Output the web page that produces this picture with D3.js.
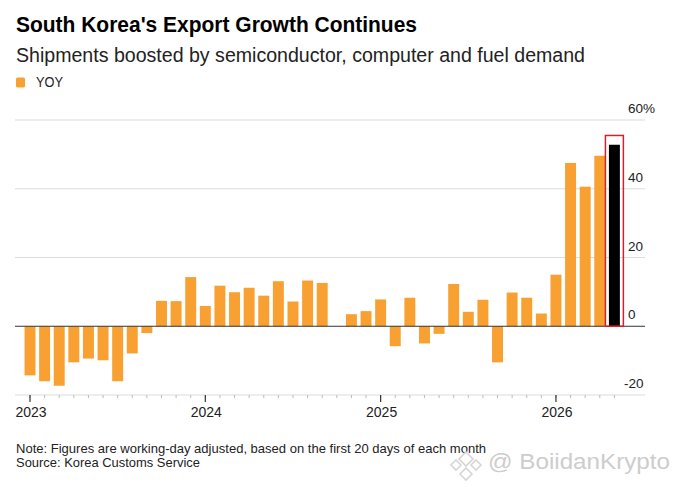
<!DOCTYPE html>
<html lang="en">
<head>
    <meta charset="UTF-8">
    <title>South Korea's Export Growth Continues</title>
    <script src="https://d3js.org/d3.v7.min.js"></script>
</head>
<style>
    html,body{
        padding:0px;
        margin:0px;
        background:#fff;
    }
    svg text{
        font-family:"Liberation Sans", Arial, sans-serif;
    }
</style>
<body>
<div id="chart"></div>
<script>
    // months Jan 2023 - May 2026 (first 20 days, YoY %)
    const months = [
        "2023-01","2023-02","2023-03","2023-04","2023-05","2023-06","2023-07","2023-08","2023-09","2023-10","2023-11","2023-12",
        "2024-01","2024-02","2024-03","2024-04","2024-05","2024-06","2024-07","2024-08","2024-09","2024-10","2024-11","2024-12",
        "2025-01","2025-02","2025-03","2025-04","2025-05","2025-06","2025-07","2025-08","2025-09","2025-10","2025-11","2025-12",
        "2026-01","2026-02","2026-03","2026-04","2026-05"
    ];
    const yoy = [
        -14.3,-16.0,-17.3,-10.5,-9.4,-9.9,-16.0,-7.9,-2.0,7.4,7.3,14.3,
        5.9,11.8,9.9,11.2,8.9,13.1,7.2,13.3,12.6,0,3.5,4.4,
        7.8,-5.8,8.3,-5.0,-2.2,12.3,4.2,7.7,-10.5,9.8,8.3,3.7,
        15.0,47.5,40.6,49.6,52.8
    ];
    const highlight = "2026-05";
    const yearTicks = ["2023-01","2024-01","2025-01","2026-01"];
    const yearLabels = ["2023","2024","2025","2026"];
    const yTicks = [-20,0,20,40,60];

    const W = 680, H = 487;
    const orange = "#f8a032";

    const svg = d3.select("#chart").append("svg")
        .attr("width", W).attr("height", H);
    svg.append("rect").attr("width", W).attr("height", H).attr("fill", "#fff");

    const x = d3.scaleBand()
        .domain(months)
        .range([22.7, 621.7])
        .paddingInner(0.25)
        .paddingOuter(0.125);
    const y = d3.scaleLinear().domain([-20, 60]).range([395, 120]);

    // gridlines
    svg.append("g").selectAll("line")
        .data(yTicks.filter(d => d !== 0))
        .join("line")
        .attr("x1", 15).attr("x2", 645)
        .attr("y1", d => y(d)).attr("y2", d => y(d))
        .attr("stroke", "#dcdcdc").attr("stroke-width", 1.2);

    // right axis labels
    svg.append("g").selectAll("text")
        .data(yTicks)
        .join("text")
        .attr("x", d => d < 0 ? 624 : 628)
        .attr("y", d => y(d) - 7)
        .attr("font-size", 13.5)
        .attr("fill", "#222")
        .text(d => d === 60 ? d + "%" : d);

    // bottom month ticks
    const xAxis = svg.append("g");
    xAxis.selectAll("line.minor")
        .data(months)
        .join("line")
        .attr("class", "minor")
        .attr("x1", d => x(d) + x.bandwidth() / 2).attr("x2", d => x(d) + x.bandwidth() / 2)
        .attr("y1", y(-20)).attr("y2", y(-20) + 3)
        .attr("stroke", "#bbb").attr("stroke-width", 1);
    xAxis.selectAll("line.major")
        .data(yearTicks)
        .join("line")
        .attr("class", "major")
        .attr("x1", d => x(d) + x.bandwidth() / 2).attr("x2", d => x(d) + x.bandwidth() / 2)
        .attr("y1", y(-20)).attr("y2", y(-20) + 7)
        .attr("stroke", "#333").attr("stroke-width", 1.2);
    xAxis.selectAll("text")
        .data(yearTicks)
        .join("text")
        .attr("x", (d, i) => x(d) + x.bandwidth() / 2 + 1)
        .attr("y", 416.5)
        .attr("text-anchor", "middle")
        .attr("font-size", 14)
        .attr("fill", "#222")
        .text((d, i) => yearLabels[i]);

    // bars
    svg.append("g").selectAll("rect")
        .data(months)
        .join("rect")
        .attr("x", d => x(d))
        .attr("width", x.bandwidth())
        .attr("y", (d, i) => y(Math.max(0, yoy[i])))
        .attr("height", (d, i) => Math.abs(y(yoy[i]) - y(0)))
        .attr("fill", d => d === highlight ? "#000" : orange);

    // zero line
    svg.append("line")
        .attr("x1", 15).attr("x2", 645)
        .attr("y1", y(0)).attr("y2", y(0))
        .attr("stroke", "#333").attr("stroke-width", 1);

    // red box round latest bar
    const hv = yoy[months.indexOf(highlight)];
    svg.append("rect")
        .attr("x", x(highlight) - 3.5)
        .attr("width", x.bandwidth() + 7)
        .attr("y", y(hv + 2.7))
        .attr("height", y(0) - y(hv + 2.7))
        .attr("fill", "none")
        .attr("stroke", "#d3202c")
        .attr("stroke-width", 1.5);

    // title block
    svg.append("text")
        .attr("x", 16).attr("y", 32.3)
        .attr("font-size", 21.8).attr("font-weight", "bold")
        .attr("fill", "#000")
        .attr("textLength", 401).attr("lengthAdjust", "spacingAndGlyphs")
        .text("South Korea's Export Growth Continues");
    svg.append("text")
        .attr("x", 16).attr("y", 62.3)
        .attr("font-size", 19.5)
        .attr("fill", "#222")
        .attr("textLength", 569).attr("lengthAdjust", "spacingAndGlyphs")
        .text("Shipments boosted by semiconductor, computer and fuel demand");

    // legend
    svg.append("rect")
        .attr("x", 16).attr("y", 77.5)
        .attr("width", 9).attr("height", 10)
        .attr("rx", 1.5)
        .attr("fill", orange);
    svg.append("text")
        .attr("x", 36).attr("y", 87.3)
        .attr("font-size", 14.5)
        .attr("fill", "#222")
        .attr("textLength", 27).attr("lengthAdjust", "spacingAndGlyphs")
        .text("YOY");

    // footnotes
    svg.append("text")
        .attr("x", 16).attr("y", 452.7)
        .attr("font-size", 13.5)
        .attr("fill", "#222")
        .attr("textLength", 470).attr("lengthAdjust", "spacingAndGlyphs")
        .text("Note: Figures are working-day adjusted, based on the first 20 days of each month");
    svg.append("text")
        .attr("x", 16).attr("y", 467)
        .attr("font-size", 13.5)
        .attr("fill", "#222")
        .attr("textLength", 184).attr("lengthAdjust", "spacingAndGlyphs")
        .text("Source: Korea Customs Service");

    // watermark
    const wm = svg.append("g").attr("fill", "none").attr("stroke", "#d6d6d6").attr("stroke-width", 1.6);
    wm.append("path").attr("d", "M466,452 L473,459 L466,466 L459,459 Z");
    wm.append("path").attr("d", "M456,460 L461,465 L456,470 L451,465 Z");
    wm.append("path").attr("d", "M476,460 L481,465 L476,470 L471,465 Z");
    wm.append("path").attr("d", "M466,468 L472,474 L466,480 L460,474 Z");
    svg.append("text")
        .attr("x", 488).attr("y", 469)
        .attr("font-size", 22)
        .attr("fill", "#cdcdcd")
        .attr("textLength", 182).attr("lengthAdjust", "spacingAndGlyphs")
        .text("@ BoiidanKrypto");
</script>
</body>
</html>
